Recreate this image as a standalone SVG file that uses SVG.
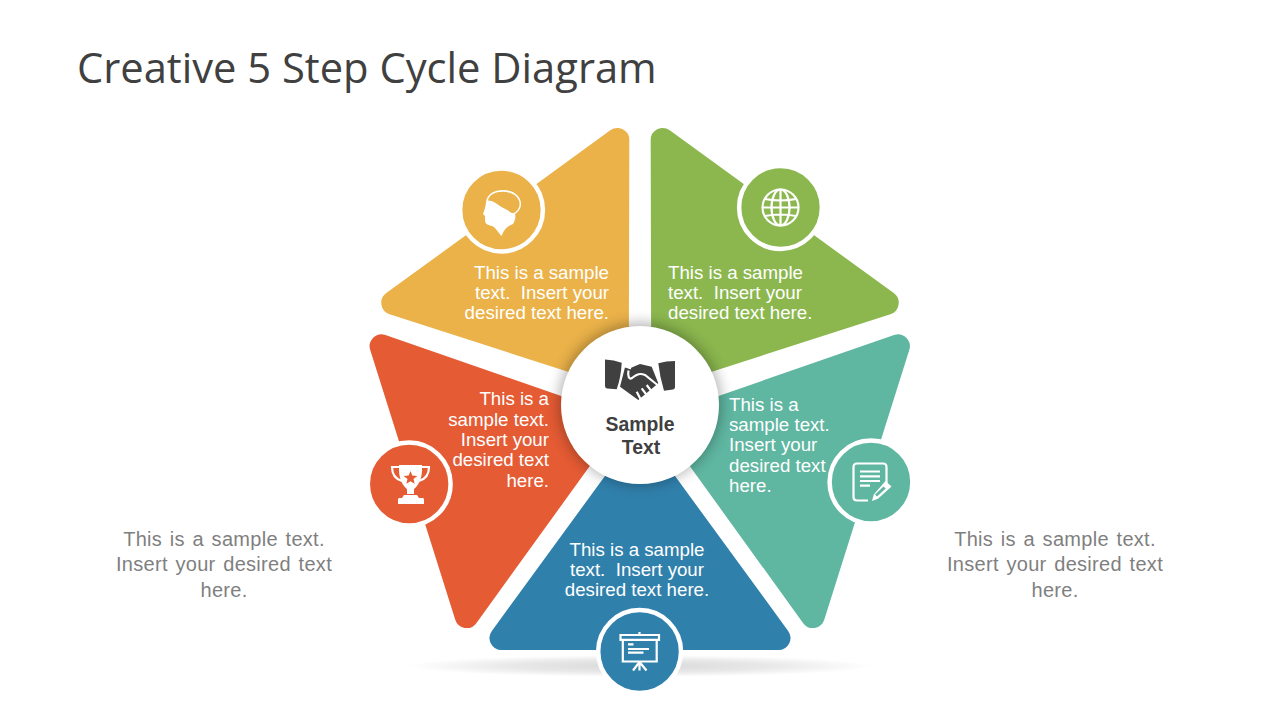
<svg xmlns="http://www.w3.org/2000/svg" width="1280" height="720" viewBox="0 0 1280 720">
<style>
text{font-family:"Liberation Sans",Arial,sans-serif;white-space:pre}
.title{font-family:"Open Sans","Liberation Sans",sans-serif;font-size:41.7px;fill:#404040}
.w{font-size:18.7px;fill:#fff}
.g{font-size:20px;fill:#7f7f7f;text-anchor:middle;letter-spacing:.3px;word-spacing:1.8px}
.c{font-size:19.4px;font-weight:bold;fill:#404040;text-anchor:middle}
.e{text-anchor:end}
.m{text-anchor:middle}
.ring{stroke:#fff;stroke-width:4.5}
.ln{fill:none;stroke:#fff;stroke-width:2.2}
</style>
<defs>
<path id="tri" d="M501.55,650H778.45A12,12 0 0 0 788.16,630.95L640,428L491.84,630.95A12,12 0 0 0 501.55,650Z"/>
<filter id="soft" x="-30%" y="-30%" width="160%" height="160%"><feGaussianBlur stdDeviation="7"/></filter>
<radialGradient id="floor"><stop offset="0" stop-color="#d8d8d8"/><stop offset=".55" stop-color="#e8e8e8"/><stop offset="1" stop-color="#fff"/></radialGradient>
</defs>
<rect width="1280" height="720" fill="#fff"/>
<text class="title" x="77" y="83">Creative 5 Step Cycle Diagram</text>
<ellipse cx="640" cy="666" rx="232" ry="11" fill="url(#floor)"/>
<g id="step-yellow">
<use href="#tri" fill="#EBB249" transform="translate(.5 -.5) rotate(144 640 408)"/>
<circle class="ring" cx="501.5" cy="210" r="41.4" fill="#EBB249"/>
<path fill="#fff" d="M503,190C494,190 487,194 486,202C486,205 485,207 485,208L483,214L485,216L485,220C485,225 489,225 492,226C495,227 498,232 501.5,236C504,230 507,226 513,224C515,221 516,217 515,214C518,212 521,209 521,204C521,196 513,190 503,190Z"/>
<path fill="#EBB249" d="M503,191.8C495,191.8 489,195 488,200.5C493,200.5 497,204 500,206C504,209 507,209 510,212C512,214 514,213 516,211.5C518.5,209 519.6,207 519.6,204C519.6,197 512,191.8 503,191.8Z"/>
<text class="w e" x="609" y="279">This is a sample</text>
<text class="w e" x="609" y="299">text.  Insert your</text>
<text class="w e" x="609" y="319">desired text here.</text>
</g>
<g id="step-green">
<use href="#tri" fill="#8BB74E" transform="translate(-.5 -.5) rotate(-144 640 408)"/>
<circle class="ring" cx="780.5" cy="207.5" r="41.4" fill="#8BB74E"/>
<g class="ln"><circle cx="780.5" cy="207.5" r="18"/><ellipse cx="780.5" cy="207.5" rx="9" ry="18"/><path d="M780.5,189.5V225.5M762.5,207.5H798.5M765,199Q780.5,202 796,199M765,216Q780.5,213 796,216"/></g>
<text class="w" x="668" y="279">This is a sample</text>
<text class="w" x="668" y="299">text.  Insert your</text>
<text class="w" x="668" y="319">desired text here.</text>
</g>
<g id="step-teal">
<use href="#tri" fill="#5FB6A1" transform="translate(-4 4) rotate(-72.5 640 408) translate(640 0) scale(1.02 1) translate(-640 0)"/>
<circle class="ring" cx="871" cy="482" r="41.4" fill="#5FB6A1"/>
<path class="ln" d="M868,500.5H857Q853.5,500.5 853.5,497V467Q853.5,463.5 857,463.5H883Q886.5,463.5 886.5,467V484"/>
<path class="ln" d="M860,471.5H880M860,476.3H880M860,481H880M860,485.7H870"/>
<path fill="#fff" d="M885.5,481L891.5,486.5L878,498.8L872,501L873.8,494.5Z"/>
<path fill="#5FB6A1" d="M883.5,486.5L885.7,488.5L877,496.5L875,494.5Z"/>
<text class="w" x="729" y="411">This is a</text>
<text class="w" x="729" y="431">sample text.</text>
<text class="w" x="729" y="451">Insert your</text>
<text class="w" x="729" y="472">desired text</text>
<text class="w" x="729" y="492">here.</text>
</g>
<g id="step-blue">
<use href="#tri" fill="#3080AC"/>
<circle class="ring" cx="639.6" cy="651.5" r="41.4" fill="#3080AC"/>
<path class="ln" d="M620.5,635H659V639.8H620.5ZM622.8,640V661.5H656.7V640M639.5,632V635"/>
<path class="ln" d="M639.5,662V670.5M639.5,662L633,670.5M639.5,662L646.5,670.5"/>
<path class="ln" stroke-width="1.6" d="M628,644.3H633.5M628,649H649M628,652.7H643.5"/>
<text class="w m" x="637" y="556">This is a sample</text>
<text class="w m" x="637" y="576">text.  Insert your</text>
<text class="w m" x="637" y="596">desired text here.</text>
</g>
<g id="step-red">
<use href="#tri" fill="#E45B34" transform="translate(3.5 4) rotate(72.5 640 408) translate(640 0) scale(1.02 1) translate(-640 0)"/>
<circle class="ring" cx="409.2" cy="484" r="41.4" fill="#E45B34"/>
<path class="ln" stroke-width="2.6" d="M400,467H392C392,474 395,479 402,481M421,467H429C429,474 426,479 419,481"/>
<path fill="#fff" d="M399,465H422V470C422,480 417,487 414,489V494H407V489C404,487 399,480 399,470Z"/>
<path fill="#fff" d="M404,495H417L419,498H423Q424,498 424,500V504H398V500Q398,498 399,498H402Z"/>
<path fill="#E45B34" d="M410.5,471L412.3,475.6L417.3,475.9L413.5,479L414.7,483.8L410.5,481.2L406.3,483.8L407.5,479L403.7,475.9L408.7,475.6Z"/>
<text class="w e" x="549" y="405">This is a</text>
<text class="w e" x="549" y="426">sample text.</text>
<text class="w e" x="549" y="446">Insert your</text>
<text class="w e" x="549" y="466">desired text</text>
<text class="w e" x="549" y="487">here.</text>
</g>
<g id="center">
<circle cx="640" cy="404" r="81" fill="#000" opacity=".3" filter="url(#soft)"/>
<circle cx="640" cy="405" r="79" fill="#fff"/>
<path fill="#404040" d="M605,359.5Q614,360 621.7,362.7Q621,377 616.7,389.3L607,388.6Q605,388.3 605,386Z"/>
<path fill="#404040" d="M675,361Q666,361 658.3,363.3Q660,378 664,390.7L673,389.5Q675,389.3 675,387Z"/>
<path fill="#404040" d="M625,367.3L620,386.7L638.3,400L658.3,383.3L651.7,366.7L640,364L630,368.3Z"/>
<path fill="none" stroke="#fff" stroke-width="2.2" d="M624.5,366L631,368.5M628.5,370.5C627.5,376 629,380 632,378C637,374 640,373 645,375L657.5,385"/>
<path fill="none" stroke="#fff" stroke-width="2.2" d="M636.7,391.7L640.5,399M641.7,388.3L646.7,395M646.7,385L651.7,391.7"/>
<text class="c" x="640" y="431">Sample</text>
<text class="c" x="641" y="454">Text</text>
</g>
<g id="notes">
<text class="g" x="224" y="546">This is a sample text.</text>
<text class="g" x="224" y="571">Insert your desired text</text>
<text class="g" x="224" y="597">here.</text>
<text class="g" x="1055" y="546">This is a sample text.</text>
<text class="g" x="1055" y="571">Insert your desired text</text>
<text class="g" x="1055" y="597">here.</text>
</g>
</svg>
